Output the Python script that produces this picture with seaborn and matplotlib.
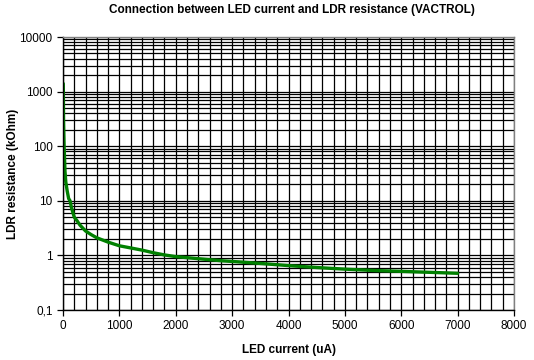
import pandas as pd
import matplotlib
matplotlib.use('Agg')
import matplotlib.pyplot as plt
import matplotlib.ticker as mticker
import seaborn as sns

# LED current (uA) vs LDR resistance (kOhm)
led_current = [5, 10, 20, 35, 50, 75, 100, 125, 150, 200, 250, 300, 400, 500,
               600, 800, 1000, 1200, 1400, 1600, 1800, 2000, 2400, 2800, 3200,
               3600, 4000, 4500, 5000, 5500, 6000, 6500, 7000]
ldr_resistance = [1400, 300, 100, 35, 22, 15, 11, 10, 7.5, 5, 4.3, 3.6, 2.8, 2.4,
                  2.1, 1.75, 1.5, 1.37, 1.25, 1.12, 1.02, 0.95, 0.87, 0.8, 0.75,
                  0.7, 0.65, 0.6, 0.56, 0.53, 0.51, 0.49, 0.47]
y_ticks = [0.1, 1, 10, 100, 1000, 10000]
y_labels = ['0,1', '1', '10', '100', '1000', '10000']
x_ticks = [0, 1000, 2000, 3000, 4000, 5000, 6000, 7000, 8000]

df = pd.DataFrame({'current': led_current, 'resistance': ldr_resistance})

sns.set_style('white', {'text.color': 'black', 'axes.labelcolor': 'black',
                        'xtick.color': 'black', 'ytick.color': 'black'})
plt.rcParams['font.family'] = ['Liberation Sans', 'DejaVu Sans']

fig = plt.figure(figsize=(5.34, 3.6), dpi=100)
ax = fig.add_axes([63 / 534, 50 / 360, 451 / 534, 273 / 360])

sns.lineplot(x='current', y='resistance', data=df, color='#008000',
             linewidth=2.4, ax=ax, sort=False)

ax.set_yscale('log')
ax.set_ylim(0.1, 10000)
ax.set_xlim(0, 8000)
ax.set_yticks(y_ticks)
ax.set_yticklabels(y_labels)
ax.yaxis.set_minor_locator(mticker.LogLocator(base=10, subs=range(2, 10), numticks=20))
ax.yaxis.set_minor_formatter(mticker.NullFormatter())
ax.set_xticks(x_ticks)
ax.xaxis.set_minor_locator(mticker.MultipleLocator(200))

# grille noire type Excel
ax.grid(True, which='both', color='black', linewidth=0.9)
ax.set_axisbelow(True)
ax.tick_params(axis='both', which='major', direction='out', length=4, width=0.9,
               color='black', labelcolor='black', labelsize=8.5, bottom=True, left=True)
ax.tick_params(axis='both', which='minor', length=0)

for side in ['left', 'bottom']:
    ax.spines[side].set_color('black')
    ax.spines[side].set_linewidth(1)
for side in ['top', 'right']:
    ax.spines[side].set_color('#808080')
    ax.spines[side].set_linewidth(1)

ax.set_xlabel('LED current (uA)', fontsize=8.5, fontweight='bold', labelpad=8, color='black')
ax.set_ylabel('LDR resistance (kOhm)', fontsize=8.5, fontweight='bold', color='black')
ax.yaxis.set_label_coords(-0.097, 0.5)
fig.suptitle('Connection between LED current and LDR resistance (VACTROL)',
             fontsize=8.5, fontweight='bold', color='black',
             x=292 / 534, y=1 - 10 / 360, va='center')

fig.savefig('out.png', dpi=100, facecolor='white')
